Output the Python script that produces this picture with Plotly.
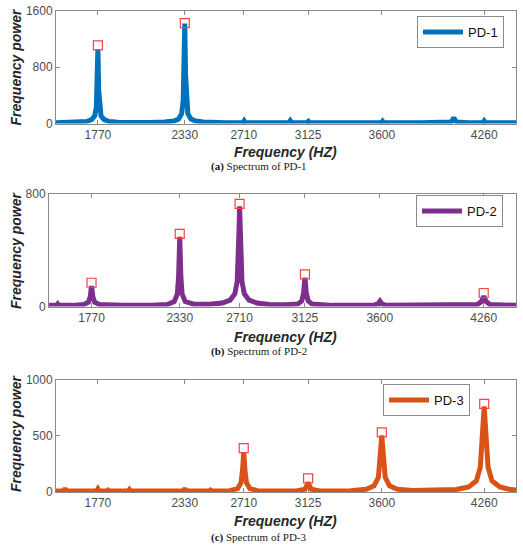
import plotly.graph_objects as go

# ---------------- data ----------------
tick_freqs = [1770, 2330, 2710, 3125, 3600, 4260]
tick_labels = ["1770", "2330", "2710", "3125", "3600", "4260"]

pd1_freq = [1500, 1580, 1650, 1700, 1730, 1750, 1760, 1765, 1768, 1770, 1772, 1775, 1780, 1790, 1810, 1840,
            1900, 1968, 1976, 1984, 2100, 2200, 2260, 2290, 2310, 2320, 2325, 2328, 2330, 2332, 2335, 2340,
            2350, 2370, 2400, 2450, 2487, 2494, 2501, 2600, 2705, 2713, 2721, 2850, 3000, 3010, 3020, 3118,
            3127, 3136, 3300, 3500, 3597, 3605, 3613, 3850, 4000, 4045, 4055, 4064, 4073, 4083, 4160, 4250,
            4260, 4270, 4380, 4465]
pd1_power = [10, 12, 18, 30, 55, 110, 230, 480, 850, 1060, 850, 480, 230, 110, 55, 30,
             18, 14, 30, 14, 14, 20, 35, 65, 140, 330, 700, 1150, 1420, 1150, 700, 330,
             140, 65, 35, 20, 16, 32, 16, 12, 12, 38, 12, 10, 10, 42, 10, 10,
             30, 10, 9, 9, 10, 32, 10, 10, 12, 20, 45, 85, 45, 20, 12, 10,
             38, 10, 9, 9]
pd1_peak_freq = [1770, 2330]
pd1_peak_power = [1110, 1427]

pd2_freq = [1500, 1548, 1555, 1562, 1650, 1720, 1750, 1762, 1767, 1770, 1773, 1778, 1790, 1820, 1900, 1956,
            1963, 1970, 2150, 2250, 2295, 2315, 2323, 2327, 2330, 2333, 2337, 2345, 2365, 2420, 2520, 2600,
            2650, 2680, 2695, 2703, 2707, 2710, 2713, 2717, 2725, 2740, 2770, 2820, 2900, 3000, 3080, 3105,
            3117, 3122, 3125, 3128, 3133, 3145, 3170, 3300, 3560, 3590, 3601, 3612, 3640, 3900, 4060, 4066,
            4072, 4180, 4186, 4192, 4220, 4245, 4255, 4260, 4265, 4275, 4300, 4380, 4465]
pd2_power = [8, 8, 18, 8, 8, 14, 30, 70, 120, 145, 120, 70, 30, 14, 8, 8,
             12, 8, 8, 14, 35, 90, 220, 380, 495, 380, 220, 90, 35, 16, 16, 25,
             45, 90, 180, 360, 560, 712, 560, 360, 180, 90, 45, 25, 14, 12, 18, 40,
             100, 170, 205, 170, 100, 40, 18, 8, 8, 20, 38, 20, 8, 8, 8, 14,
             8, 8, 12, 8, 14, 35, 60, 72, 60, 35, 14, 8, 8]
pd2_peak_freq = [1770, 2330, 2710, 3125, 4260]
pd2_peak_power = [169, 516, 730, 228, 96]

pd3_freq = [1500, 1550, 1558, 1566, 1700, 1762, 1770, 1778, 1830, 1837, 1844, 1965, 1973, 1981, 2200, 2322,
            2330, 2338, 2487, 2495, 2503, 2620, 2670, 2692, 2702, 2707, 2710, 2713, 2718, 2728, 2750, 2800,
            3050, 3105, 3118, 3125, 3132, 3145, 3200, 3400, 3500, 3550, 3578, 3590, 3596, 3600, 3604, 3610,
            3622, 3650, 3700, 3800, 3950, 4080, 4160, 4210, 4235, 4248, 4255, 4260, 4265, 4272, 4285, 4310,
            4360, 4420, 4465]
pd3_power = [10, 10, 32, 10, 10, 10, 28, 10, 8, 16, 8, 8, 22, 8, 8, 8,
             32, 8, 8, 16, 8, 12, 30, 80, 190, 300, 353, 300, 190, 80, 30, 12,
             10, 25, 60, 85, 60, 25, 10, 12, 25, 55, 130, 290, 430, 502, 430, 290,
             130, 55, 25, 14, 14, 22, 45, 100, 220, 450, 650, 761, 650, 450, 220, 100,
             45, 25, 18]
pd3_peak_freq = [2710, 3125, 3600, 4260]
pd3_peak_power = [390, 122, 530, 783]

series_names = ["PD-1", "PD-2", "PD-3"]
series_colors = ["#0072BD", "#7E2F8E", "#D95319"]
y_max = [1600, 800, 1000]
y_ticks = [[0, 800, 1600], [0, 800], [0, 500, 1000]]
captions = ["<b>(a)</b> Spectrum of PD-1", "<b>(b)</b> Spectrum of PD-2", "<b>(c)</b> Spectrum of PD-3"]

# ---------------- layout geometry ----------------
W, H = 523, 550
x_domains = [[56 / W, 516 / W], [49 / W, 516 / W], [56 / W, 516 / W]]
y_domains = [[1 - 123.5 / H, 1 - 11 / H], [1 - 306.5 / H, 1 - 194 / H], [1 - 492 / H, 1 - 379.5 / H]]
xtitle_y = [151.7, 336.5, 520.5]
ytitle_y = [67.5, 251, 434]
caption_y = [166.7, 351.7, 537]
legend_pos = [(504, 16), (503, 195), (470, 384)]

freqs = [pd1_freq, pd2_freq, pd3_freq]
powers = [pd1_power, pd2_power, pd3_power]
pk_f = [pd1_peak_freq, pd2_peak_freq, pd3_peak_freq]
pk_p = [pd1_peak_power, pd2_peak_power, pd3_peak_power]

fig = go.Figure()
axis_gray = "#8a8a8a"
tick_color = "#4d4d4d"
title_color = "#262626"
font_sans = "Liberation Sans, Arial, sans-serif"

annotations = []
for i in range(3):
    sfx = "" if i == 0 else str(i + 1)
    leg = "legend" if i == 0 else "legend" + str(i + 1)
    fig.add_trace(go.Scatter(
        x=freqs[i], y=powers[i], mode="lines", name=series_names[i],
        line=dict(color=series_colors[i], width=5),
        xaxis="x" + sfx, yaxis="y" + sfx, legend=leg, showlegend=True,
    ))
    fig.add_trace(go.Scatter(
        x=pk_f[i], y=pk_p[i], mode="markers",
        marker=dict(symbol="square-open", size=9, color="#ff4040", line=dict(width=1.2, color="#ff4040")),
        xaxis="x" + sfx, yaxis="y" + sfx, showlegend=False, cliponaxis=False,
    ))
    fig.update_layout(**{
        "xaxis" + sfx: dict(
            domain=x_domains[i], anchor="y" + sfx, range=[1500, 4465], automargin=False,
            tickvals=tick_freqs, ticktext=tick_labels,
            ticks="inside", ticklen=4, tickcolor=axis_gray,
            showline=True, linecolor=axis_gray, linewidth=1, mirror="ticks",
            showgrid=False, zeroline=False, layer="below traces",
            tickfont=dict(family=font_sans, size=12, color=tick_color),
        ),
        "yaxis" + sfx: dict(
            domain=y_domains[i], anchor="x" + sfx, range=[0, y_max[i]], automargin=False,
            tickvals=y_ticks[i], ticks="inside", ticklen=4, tickcolor=axis_gray,
            showline=True, linecolor=axis_gray, linewidth=1, mirror="ticks",
            showgrid=False, zeroline=False, layer="below traces",
            tickfont=dict(family=font_sans, size=12, color=tick_color),
        ),
        leg: dict(
            x=legend_pos[i][0] / W, y=1 - legend_pos[i][1] / H, xanchor="right", yanchor="top",
            bgcolor="white", bordercolor=axis_gray, borderwidth=1,
            font=dict(family=font_sans, size=13, color="#111111"),
            tracegroupgap=0, itemwidth=40,
        ),
    })
    annotations.append(dict(
        text="<b><i>Frequency (HZ)</i></b>", x=285 / W, y=1 - xtitle_y[i] / H,
        xref="paper", yref="paper", xanchor="center", yanchor="middle", showarrow=False,
        font=dict(family=font_sans, size=14, color=title_color),
    ))
    annotations.append(dict(
        text="<b><i>Frequency power</i></b>", x=16 / W, y=1 - ytitle_y[i] / H, textangle=-90,
        xref="paper", yref="paper", xanchor="center", yanchor="middle", showarrow=False,
        font=dict(family=font_sans, size=14, color=title_color),
    ))
    annotations.append(dict(
        text=captions[i], x=259 / W, y=1 - caption_y[i] / H,
        xref="paper", yref="paper", xanchor="center", yanchor="middle", showarrow=False,
        font=dict(family="Liberation Serif, Times New Roman, serif", size=11, color="#1a1a1a"),
    ))

fig.update_layout(
    width=W, height=H, margin=dict(l=0, r=0, t=0, b=0, pad=0), autosize=False,
    paper_bgcolor="white", plot_bgcolor="white",
    annotations=annotations, showlegend=True,
)

page_js = """
document.documentElement.style.margin='0px';
document.body.style.margin='0px';
document.body.style.overflow='hidden';
"""

fig.write_html("out.html", config={"displayModeBar": False}, post_script=page_js)
